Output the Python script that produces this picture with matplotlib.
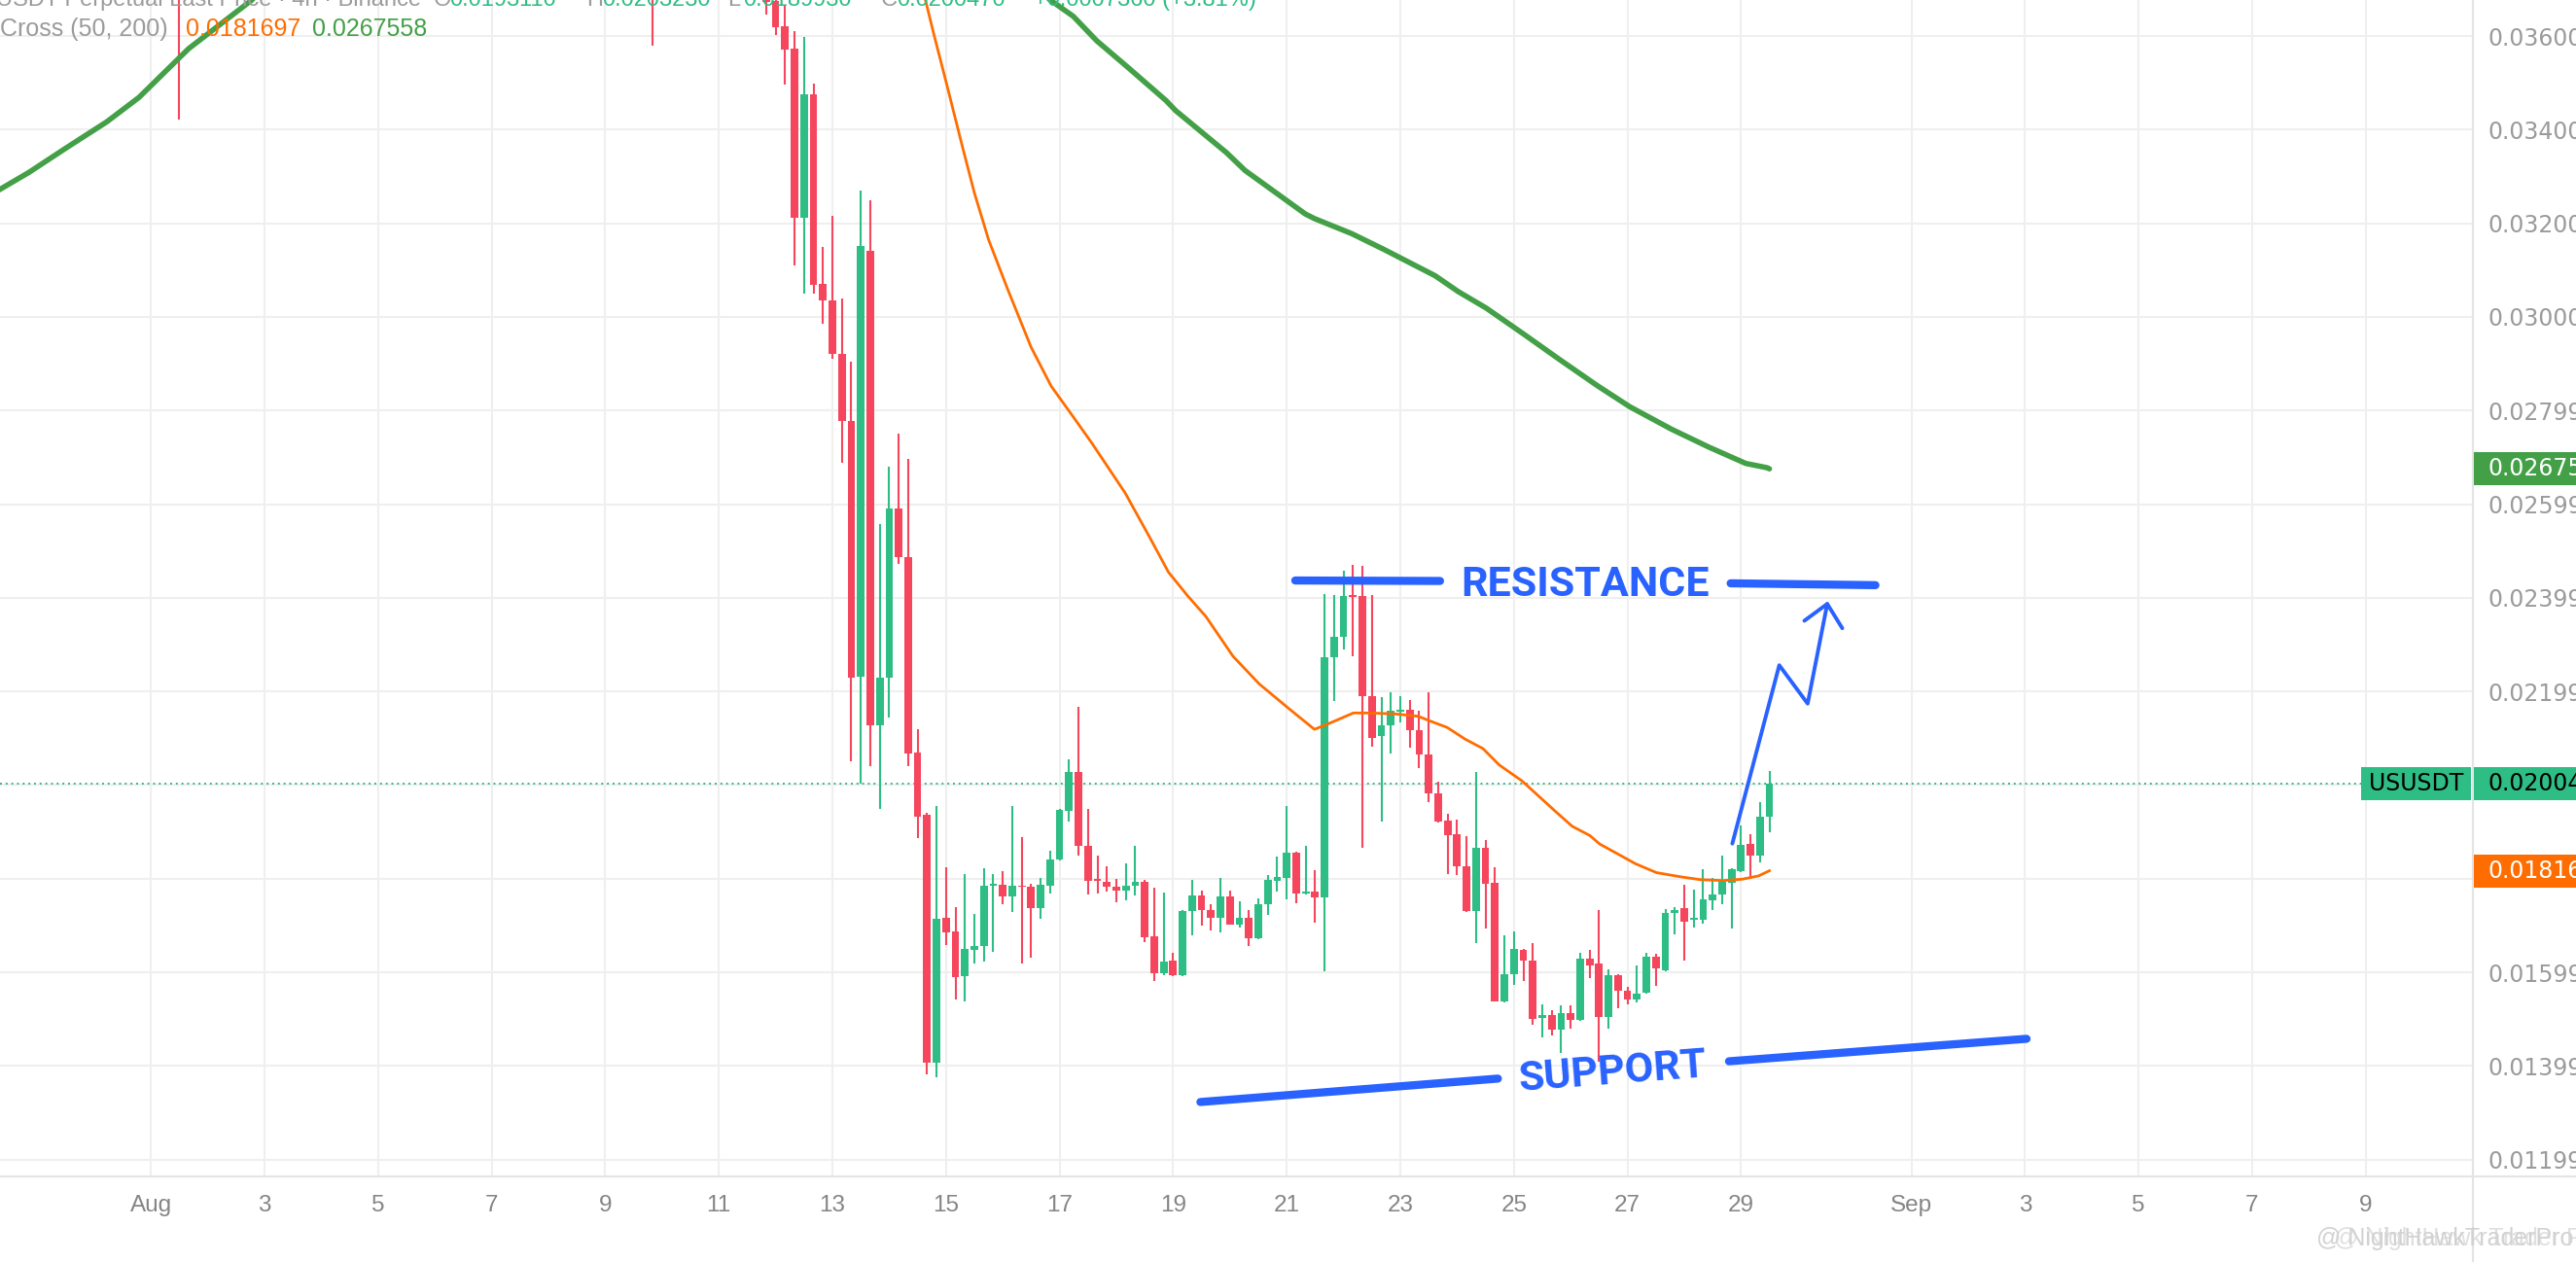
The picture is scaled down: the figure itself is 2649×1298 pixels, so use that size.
import matplotlib
matplotlib.use("Agg")
import matplotlib.pyplot as plt
import matplotlib.transforms as mtransforms
from matplotlib.lines import Line2D
from matplotlib.patches import Rectangle
import numpy as np

plt.rcParams['font.family'] = ['Liberation Sans', 'DejaVu Sans']

# ---- data: 4h candles, bar index counted from Aug 13 00:00 ----
bar_idx = [-69, -19] + list(range(-7, 100))

opens = [0.0392, 0.0402,
         0.0370, 0.03674, 0.03621, 0.03573, 0.03211, 0.03475, 0.0307,
         0.03036, 0.0292, 0.02778, 0.02232, 0.03141, 0.02127, 0.0223, 0.02591, 0.02486, 0.02069,
         0.01936, 0.01407, 0.01716, 0.01687, 0.01591, 0.01647, 0.01656, 0.01786, 0.01788, 0.01762,
         0.01786, 0.01782, 0.01737, 0.01786, 0.01842, 0.01944, 0.02029, 0.01871, 0.01798, 0.01794,
         0.01783, 0.01774, 0.01786, 0.01794, 0.01676, 0.01598, 0.01626, 0.01593, 0.01731, 0.01765,
         0.01734, 0.01716, 0.01763, 0.01702, 0.01716, 0.01673, 0.01745, 0.01795, 0.01801, 0.01855,
         0.01769, 0.01772, 0.0176, 0.02274, 0.02316, 0.02405, 0.02403, 0.02191, 0.02104, 0.02127,
         0.02158, 0.02161, 0.02118, 0.02066, 0.01983, 0.01924, 0.01895, 0.01827, 0.01731, 0.01867,
         0.01791, 0.01538, 0.01595, 0.01648, 0.01625, 0.01503, 0.01508, 0.01477, 0.01512, 0.01499,
         0.0163, 0.01619, 0.01505, 0.01594, 0.01561, 0.01543, 0.01556, 0.01634, 0.01604, 0.01727,
         0.01737, 0.01712, 0.01713, 0.01754, 0.01766, 0.01791, 0.01817, 0.01874, 0.0185, 0.01932]

highs = [0.0398, 0.0410,
         0.0372, 0.0369, 0.03665, 0.0361, 0.03598, 0.03498, 0.03149,
         0.03216, 0.03039, 0.02904, 0.0327, 0.03249, 0.02557, 0.02681, 0.0275, 0.02696, 0.02119,
         0.0194, 0.01955, 0.01824, 0.01739, 0.01809, 0.01724, 0.01823, 0.01809, 0.01817, 0.01956,
         0.01889, 0.0179, 0.01802, 0.01859, 0.0195, 0.02056, 0.02168, 0.0195, 0.0185, 0.01826,
         0.018, 0.01832, 0.01871, 0.01798, 0.0178, 0.0177, 0.01641, 0.01734, 0.01797, 0.01774,
         0.01745, 0.01801, 0.01774, 0.01751, 0.01733, 0.01757, 0.01807, 0.01847, 0.01956, 0.01857,
         0.0187, 0.01818, 0.02409, 0.02406, 0.02457, 0.02471, 0.02469, 0.02407, 0.02187, 0.02199,
         0.02189, 0.02181, 0.02158, 0.02198, 0.02008, 0.01938, 0.01926, 0.01891, 0.02028, 0.01882,
         0.01824, 0.0168, 0.01687, 0.0165, 0.01663, 0.01532, 0.0152, 0.0153, 0.0153, 0.01642,
         0.01647, 0.01733, 0.01606, 0.01596, 0.01568, 0.01615, 0.01642, 0.01639, 0.01735, 0.01739,
         0.01787, 0.01777, 0.0182, 0.01801, 0.01849, 0.01823, 0.01913, 0.01896, 0.01963, 0.0203]

lows = [0.03421, 0.03579,
        0.03646, 0.03603, 0.03496, 0.0311, 0.0305, 0.0305, 0.02986,
        0.02911, 0.02689, 0.02051, 0.02003, 0.0204, 0.0195, 0.02145, 0.02473, 0.0204, 0.01886,
        0.01383, 0.01376, 0.01658, 0.01543, 0.01537, 0.01618, 0.01624, 0.01643, 0.01745, 0.01728,
        0.01618, 0.01631, 0.01714, 0.01768, 0.0184, 0.01922, 0.01849, 0.01766, 0.01768, 0.01772,
        0.0175, 0.01753, 0.01764, 0.01664, 0.01581, 0.01594, 0.01591, 0.01591, 0.0168, 0.017,
        0.01689, 0.01685, 0.01702, 0.01695, 0.01656, 0.01671, 0.01722, 0.01772, 0.01756, 0.01747,
        0.01766, 0.01707, 0.01603, 0.0218, 0.02289, 0.02275, 0.01867, 0.02083, 0.01923, 0.02068,
        0.02133, 0.0208, 0.02037, 0.01963, 0.01921, 0.0181, 0.01808, 0.01729, 0.01663, 0.01694,
        0.01537, 0.01536, 0.01574, 0.01581, 0.01488, 0.0146, 0.01465, 0.01428, 0.0148, 0.01497,
        0.01587, 0.0141, 0.0148, 0.01523, 0.01531, 0.01535, 0.01554, 0.01572, 0.01602, 0.01682,
        0.01625, 0.01695, 0.01705, 0.01734, 0.01746, 0.01694, 0.01815, 0.018, 0.01834, 0.01899]

closes = [0.0385, 0.0396,
          0.03672, 0.03619, 0.03572, 0.03211, 0.03475, 0.03069, 0.03036,
          0.0292, 0.02778, 0.0223, 0.03151, 0.02127, 0.0223, 0.02591, 0.02486, 0.02067, 0.01933,
          0.01407, 0.01714, 0.01685, 0.0159, 0.01649, 0.01657, 0.01786, 0.0179, 0.01762, 0.01784,
          0.01782, 0.01737, 0.01788, 0.01842, 0.01947, 0.02029, 0.0187, 0.01795, 0.01795, 0.01782,
          0.01774, 0.01785, 0.01794, 0.01675, 0.01598, 0.01624, 0.01593, 0.01732, 0.01765, 0.01733,
          0.01716, 0.01763, 0.01702, 0.01716, 0.01673, 0.01745, 0.01797, 0.01803, 0.01855, 0.01768,
          0.01772, 0.0176, 0.02274, 0.02316, 0.02403, 0.02403, 0.02191, 0.02101, 0.02127, 0.02158,
          0.02161, 0.02118, 0.02066, 0.01983, 0.01923, 0.01893, 0.01826, 0.01731, 0.01867, 0.0179,
          0.01537, 0.01595, 0.01649, 0.01625, 0.01501, 0.01508, 0.01477, 0.01512, 0.01499, 0.0163,
          0.01615, 0.01505, 0.01594, 0.0156, 0.01543, 0.01554, 0.01634, 0.01608, 0.01727, 0.01734,
          0.01708, 0.01715, 0.01756, 0.01766, 0.01794, 0.0182, 0.01872, 0.0185, 0.01932, 0.02004]

# MA Cross (50, 200)
ma50_x = [8.84, 9.83, 10.69, 12.05, 13.77, 15.0, 16.5, 18.5, 21.0, 23.12, 25.5, 27.43, 30.93,
          33.5, 35.5, 37.5, 39.46, 42.33, 45.10, 48.19, 50.93, 52.64, 55.04, 56.75, 59.49, 61.88,
          63.26, 64.96, 66.86, 68.73, 70.45, 72.85, 74.21, 76.27, 78.16, 80.04, 81.07, 82.79,
          84.84, 87.06, 89.63, 91.69, 94.09, 96.15, 97.85, 99.0]
ma50_y = [0.03760, 0.03677, 0.03606, 0.03499, 0.03361, 0.03265, 0.03165, 0.03060, 0.02935,
          0.02852, 0.02785, 0.02730, 0.02624, 0.02530, 0.02455, 0.02405, 0.02360, 0.02275,
          0.02216, 0.02164, 0.02119, 0.02133, 0.02154, 0.02154, 0.02152, 0.02147, 0.02136,
          0.02123, 0.02098, 0.02078, 0.02043, 0.02009, 0.01984, 0.01946, 0.01912, 0.01892,
          0.01874, 0.01855, 0.01832, 0.01813, 0.01804, 0.01798, 0.01796, 0.01799, 0.01806, 0.0181697]

ma200_early_x = [-88.5, -84.87, -80.96, -76.65, -73.26, -68.02, -61.34, -58.16]
ma200_early_y = [0.03266, 0.03309, 0.03361, 0.03417, 0.03469, 0.03573, 0.03677, 0.03739]
ma200_x = [19.93, 23.01, 25.46, 27.92, 31.34, 35.26, 36.25, 41.63, 43.59, 49.96, 50.94, 54.86,
           58.29, 63.68, 66.13, 69.07, 72.99, 76.90, 80.83, 84.26, 88.67, 92.59, 96.51, 98.72, 99.0]
ma200_y = [0.03729, 0.03677, 0.03642, 0.03590, 0.03531, 0.03462, 0.03441, 0.03351, 0.03313,
           0.03220, 0.03210, 0.03178, 0.03144, 0.03088, 0.03054, 0.03019, 0.02964, 0.02908,
           0.02853, 0.02808, 0.02760, 0.02722, 0.02687, 0.02678, 0.0267558]

price_ticks = [0.012, 0.014, 0.016, 0.018, 0.020, 0.022, 0.024, 0.026, 0.028, 0.030, 0.032, 0.034, 0.036]
price_labels = ["0.01199", "0.01399", "0.01599", "0.01799", "0.01999", "0.02199", "0.02399",
                "0.02599", "0.02799", "0.03000", "0.03200", "0.03400", "0.03600"]

# day number counted from Aug 1 (Sep 1 = 32)
date_days = [1, 3, 5, 7, 9, 11, 13, 15, 17, 19, 21, 23, 25, 27, 29, 32, 34, 36, 38, 40]
date_labels = ["Aug", "3", "5", "7", "9", "11", "13", "15", "17", "19", "21", "23", "25", "27",
               "29", "Sep", "3", "5", "7", "9"]

# hand drawn annotations (bar index, price)
resist_left = ([48.9, 64.2], [0.02437, 0.02436])
resist_right = ([94.9, 110.2], [0.02431, 0.02427])
support_left = ([38.88, 70.31], [0.01323, 0.01373])
support_right = ([94.73, 126.17], [0.01410, 0.01458])
arrow_x = [95.08, 100.04, 103.04, 105.11]
arrow_y = [0.01875, 0.02256, 0.02174, 0.02387]
arrow_head_x = [102.69, 105.11, 106.70]
arrow_head_y = [0.02351, 0.02387, 0.02335]

# ---- styling ----
W, H = 2649, 1298
UP, DOWN = '#2ebd85', '#f6465d'
MA50_C, MA200_C = '#ff6d00', '#43a047'
BLUE = '#2962ff'
GRID = '#efefef'
TXT = '#9b9b9b'

fig = plt.figure(figsize=(W / 100, H / 100), dpi=100)
fig.patch.set_facecolor('white')
plot_right = 2543   # px where the price scale starts
plot_bottom = 1210  # px (from top) where the time scale starts
ax = fig.add_axes([0, 1 - plot_bottom / H, plot_right / W, plot_bottom / H])

bar_px = 9.733  # px per candle
x0_px = 856     # px of the Aug 13 00:00 candle
ax.set_xlim(-x0_px / bar_px, (plot_right - x0_px) / bar_px)
ax.set_ylim(0.01164, 0.03677)

# candles
x = np.array(bar_idx)
o, h, l, c = (np.array(v) for v in (opens, highs, lows, closes))
up = c >= o
col = np.where(up, UP, DOWN)
body = np.maximum(np.abs(c - o), 0.00004)
mid = (o + c) / 2
ax.vlines(x, l, h, colors=col, lw=1.5, zorder=3)
ax.bar(x, body, width=0.8, bottom=mid - body / 2, color=col, lw=0, zorder=4)

# moving averages
ax.plot(ma50_x, ma50_y, color=MA50_C, lw=2.0, zorder=5)
ax.plot(ma200_early_x, ma200_early_y, color=MA200_C, lw=4.0, zorder=5, solid_capstyle='round')
ax.plot(ma200_x, ma200_y, color=MA200_C, lw=4.0, zorder=5, solid_capstyle='round')

# last price line
ax.axhline(closes[-1], xmax=2428 / plot_right, color=UP, lw=1.4, ls=(0, (1, 2)), zorder=2)

# annotations
for seg in (resist_left, resist_right, support_left, support_right):
    ax.plot(seg[0], seg[1], color=BLUE, lw=6, solid_capstyle='round', zorder=6)
ax.plot(arrow_x, arrow_y, color=BLUE, lw=2.8, solid_capstyle='round', zorder=6)
ax.plot(arrow_head_x, arrow_head_y, color=BLUE, lw=2.8, solid_capstyle='round', zorder=6)
ax.text(79.5, 0.02427, "RESISTANCE", ha='center', va='center', fontsize=31,
        fontweight='bold', family='Roboto', color=BLUE, zorder=7)
ax.text(82.4, 0.01386, "SUPPORT", ha='center', va='center', fontsize=31, rotation=4.4,
        rotation_mode='anchor', fontweight='bold', family='Roboto', color=BLUE, zorder=7)

# axes, grid, ticks
for s in ax.spines.values():
    s.set_visible(False)
ax.set_axisbelow(True)
ax.set_xticks([(d - 13) * 6 for d in date_days], date_labels)
ax.set_yticks(price_ticks, price_labels)
ax.grid(True, color=GRID, lw=1.5)
ax.yaxis.tick_right()
ax.tick_params(axis='x', length=0, pad=14, labelsize=17.5, labelcolor='#858585')
ax.tick_params(axis='y', length=0, pad=11.5, labelsize=17, labelcolor=TXT)
for t in ax.get_yticklabels():
    t.set_family('DejaVu Sans')

fig.add_artist(Line2D([plot_right / W] * 2, [0, 1], transform=fig.transFigure, color='#e4e4e4', lw=1.5))
fig.add_artist(Line2D([0, 1], [1 - plot_bottom / H] * 2, transform=fig.transFigure, color='#e4e4e4', lw=1.5))

# price scale badges
bt = mtransforms.blended_transform_factory(fig.transFigure, ax.transData)
half = 17 * (0.03677 - 0.01164) / plot_bottom


def trunc5(v):
    return f"{np.floor(v * 1e5) / 1e5:.5f}"


def badge(x_left, x_right, value, text, fc, tc, text_x, ha='left'):
    fig.add_artist(Rectangle((x_left / W, value - half), (x_right - x_left) / W, 2 * half,
                             transform=bt, fc=fc, ec='none', zorder=5))
    fig.text(text_x / W, value, text, transform=bt, ha=ha, va='center', fontsize=17,
             family='DejaVu Sans', color=tc, zorder=6)


badge(2544, W + 5, ma200_y[-1], trunc5(ma200_y[-1]), MA200_C, 'white', 2559)
badge(2544, W + 5, ma50_y[-1], trunc5(ma50_y[-1]), MA50_C, 'white', 2559)
badge(2544, W + 5, closes[-1], trunc5(closes[-1] + 1e-9), UP, 'black', 2559)
badge(2428, 2541, closes[-1], "USUSDT", UP, 'black', 2484.5, ha='center')

# legend rows at the top (partly cut off)
fig.text(433 / W, 1 - 6 / H, "USDT Perpetual Last Price · 4h · Binance", ha='right',
         va='baseline', fontsize=17, color=TXT)
for xp, k, v in [(446, "O", "0.0193110"), (603, "H", "0.0203230"), (748, "L", "0.0189930"),
                 (906, "C", "0.0200470")]:
    fig.text(xp / W, 1 - 6 / H, k, va='baseline', fontsize=17, color=TXT)
    fig.text((xp + 16) / W, 1 - 6 / H, v, va='baseline', fontsize=17, color=UP)
fig.text(1063 / W, 1 - 6 / H, "+0.0007360 (+3.81%)", va='baseline', fontsize=17, color=UP)

fig.text(0, 1 - 37 / H, "Cross (50, 200)", ha='left', va='baseline', fontsize=18, color=TXT)
fig.text(191 / W, 1 - 37 / H, f"{ma50_y[-1]:.7f}", va='baseline', fontsize=18, color=MA50_C)
fig.text(321 / W, 1 - 37 / H, f"{ma200_y[-1]:.7f}", va='baseline', fontsize=18, color=MA200_C)

# watermark
fig.text(2382 / W, 1 - 1274 / H, "@ NightHawkTraderPro", va='center', fontsize=18, color='#d2d2d2')
fig.text(2400 / W, 1 - 1274 / H, "@ NightHawk Trader Pro", va='center', fontsize=18,
         color='#d2d2d2', alpha=0.7)

fig.savefig("out.png", dpi=100)
